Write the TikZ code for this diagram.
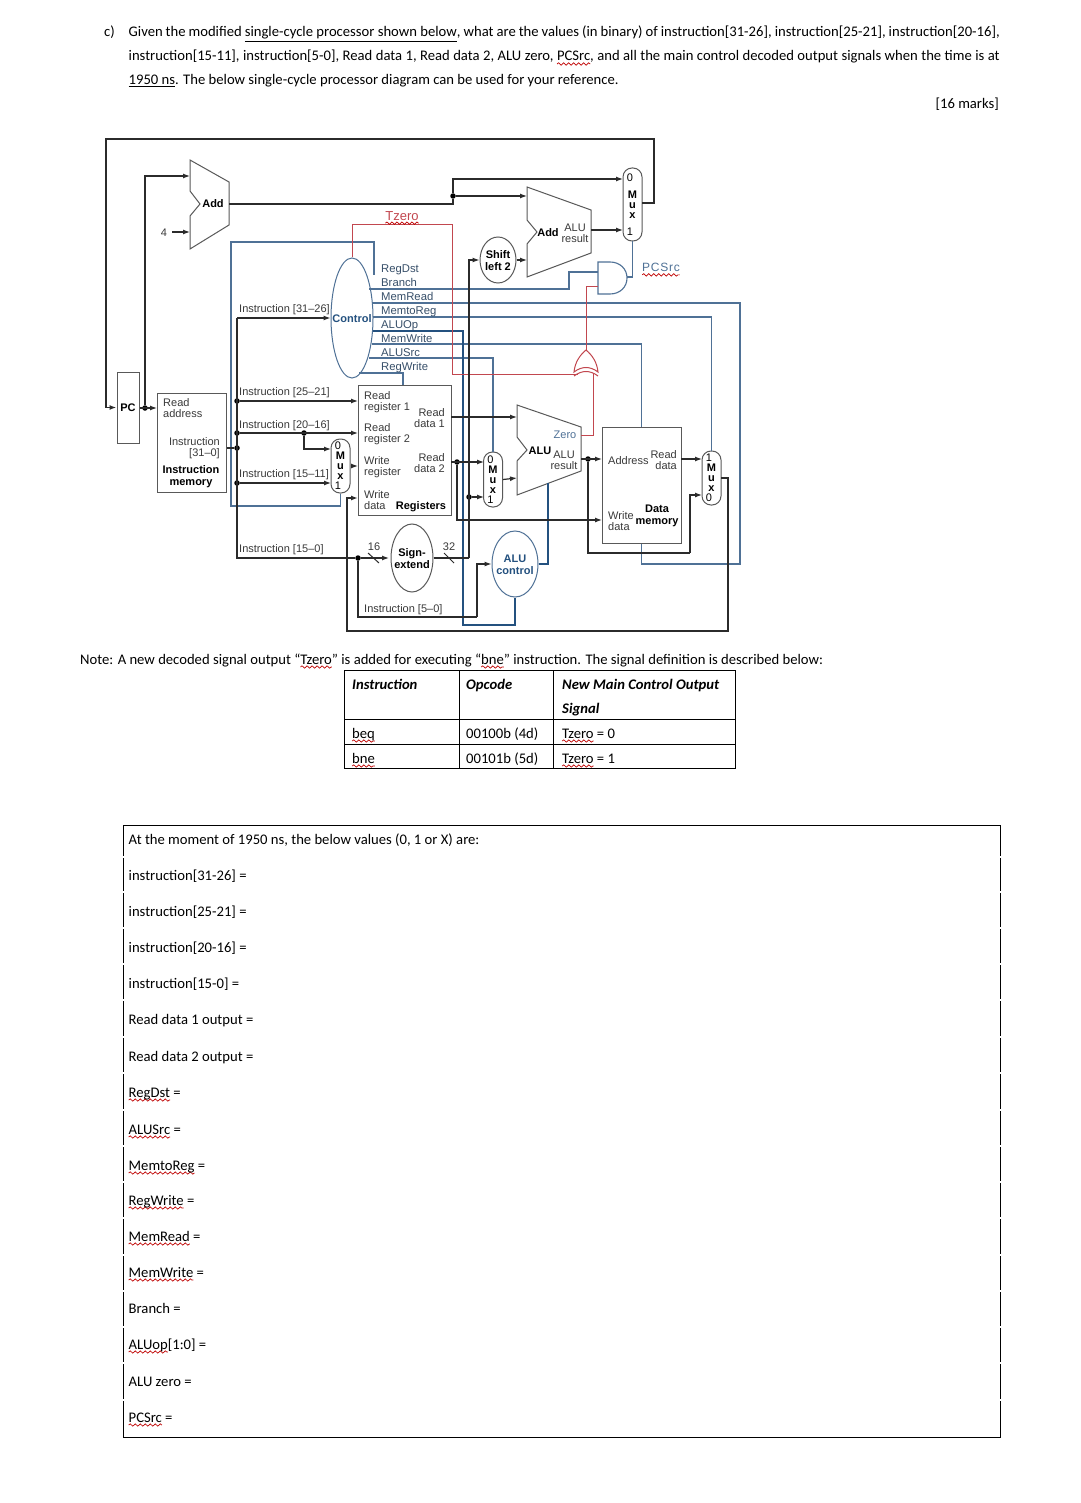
\documentclass[tikz,border=0pt]{standalone}
\usepackage{fontspec}
\setmainfont{Carlito}
\newfontfamily\labelfont{Liberation Sans}
\usetikzlibrary{arrows.meta,shapes.geometric,decorations.pathmorphing}
\definecolor{wireblack}{HTML}{2B2B2B}
\definecolor{ctrlblue}{HTML}{4F7196}
\definecolor{deepblue}{HTML}{24517F}
\definecolor{tzred}{HTML}{C2474F}
\definecolor{labelgray}{HTML}{3A3A3A}
\newsavebox{\splbox}
\newcommand{\spl}[1]{\leavevmode\sbox{\splbox}{#1}\raisebox{-3pt}{\tikz[overlay,baseline=0pt]\draw[red!75!black,line width=.7pt,decorate,decoration={snake,amplitude=1.2pt,segment length=5pt}] (0pt,0pt) -- (\wd\splbox,0pt);}\usebox{\splbox}}
\newcommand{\muxtext}[3][0pt]{\hspace*{-5pt}{\mdseries #2}\\[#1]\textbf{M}\\\textbf{u}\\\textbf{x}\\[#1]\hspace*{-5pt}{\mdseries #3}}
\tikzset{
  wire/.style={draw=wireblack,line width=1.2pt},
  ctrl/.style={draw=ctrlblue,line width=1.3pt},
  thick ctrl/.style={draw=deepblue,line width=2.6pt},
  tz/.style={draw=tzred,line width=1pt},
  box/.style={draw=gray!70!black,line width=1pt,inner sep=0pt},
  mux/.style={draw=gray!70!black,line width=1pt,rounded corners=9pt,minimum width=19pt,inner sep=0pt,align=center,font=\labelfont\fontsize{11}{10}\selectfont},
  dot/.style={circle,fill=black,inner sep=0pt,minimum size=5.5pt},
  lab/.style={font=\labelfont\fontsize{11}{11.5}\selectfont,text=labelgray,inner sep=0pt,align=center,yshift=-1.2pt},
  lableft/.style={lab,anchor=west,align=left},
  sig/.style={lab,anchor=west,text=ctrlblue!70!black,font=\labelfont\fontsize{11.3}{11.5}\selectfont,text height=8pt,text depth=2pt},
  blockname/.style={font=\labelfont\bfseries\fontsize{11}{12}\selectfont,inner sep=0pt,align=center,yshift=-.8pt},
  doc/.style={font=\fontsize{14.65}{17}\selectfont,inner sep=0pt,anchor=base west},
  rule/.style={draw=black,line width=1pt},
}
\begin{document}
\begin{tikzpicture}[x=1pt,y=-1pt,>={Latex[length=7pt,width=5pt]}]
\path[use as bounding box,fill=white] (0,0) rectangle (1080,1503);

% question text
\node[doc] (qc) at (104,37) {c)};
\node[doc] (q1) at (128.5,37) {\hbox to 871pt{Given the modified \underline{single-cycle processor shown below}, what are the values (in binary) of instruction[31-26], instruction[25-21], instruction[20-16],}};
\node[doc] (q2) at (128.5,61) {\hbox to 871pt{instruction[15-11], instruction[5-0], Read data 1, Read data 2, ALU zero, \spl{PCSrc}, and all the main control decoded output signals when the time is at}};
\node[doc] (q3) at (128.5,85) {\underline{1950 ns}. The below single-cycle processor diagram can be used for your reference.};
\node[doc,anchor=base east] (qm) at (999,109) {[16 marks]};

% blocks
\node[box,minimum width=22pt,minimum height=71pt] (pc) at (128,407.5) {\labelfont\bfseries\fontsize{11}{12}\selectfont PC};
\node[box,minimum width=69pt,minimum height=99pt] (imem) at (191.5,442.5) {};
\node[box,minimum width=93pt,minimum height=130pt] (regs) at (404.5,450) {};
\node[box,minimum width=79pt,minimum height=116pt] (dmem) at (641.5,485) {};
\node[mux,minimum height=73pt] (mpc) at (632.5,204.5) {\muxtext[7pt]{0}{1}};
\node[mux,minimum height=54pt] (mreg) at (340.5,466) {\muxtext{0}{1}};
\node[mux,minimum height=55pt] (malu) at (493,479.5) {\muxtext{0}{1}};
\node[mux,minimum height=54pt] (mmem) at (711.5,478) {\muxtext{1}{0}};
\node[ellipse,box,minimum width=36pt,minimum height=46pt] (shift) at (498,260) {};
\node[ellipse,box,minimum width=42pt,minimum height=68pt] (sext) at (412,558) {};
\node[ellipse,draw=ctrlblue,line width=1pt,inner sep=0pt,minimum width=42pt,minimum height=120pt] (ctrlu) at (352,318) {};
\node[ellipse,draw=ctrlblue,line width=1pt,inner sep=0pt,minimum width=46pt,minimum height=66pt] (aluc) at (515,564) {};
\draw[box] (190,160) -- (229,182) -- (229,225) -- (190,249) -- (190,216) -- (200,204) -- (190,191) -- cycle;
\draw[box] (527,187) -- (591,210) -- (591,253) -- (527,277) -- (527,244) -- (537,232) -- (527,220) -- cycle;
\draw[box] (517,405) -- (581,427) -- (581,471) -- (517,495) -- (517,461) -- (527,450) -- (517,437) -- cycle;
\draw[ctrl,line width=1.1pt] (598,262) -- (610,262) .. controls (620,262) and (627,269) .. (627,278) .. controls (627,287) and (620,294) .. (610,294) -- (598,294) -- cycle;
\draw[tz] (574,372) .. controls (575,362) and (580,355) .. (586,350) .. controls (592,355) and (597,362) .. (598,372) .. controls (590,366) and (582,366) .. (574,372) -- cycle;
\draw[tz] (574,376) .. controls (582,370) and (590,370) .. (598,376);

% junctions
\node[dot] (dpc) at (145,408) {};
\node[dot] (dadd) at (453,196) {};
\node[dot] (di1) at (237,401) {};
\node[dot] (di2) at (237,433) {};
\node[dot] (di0) at (237,448) {};
\node[dot] (di3) at (237,483) {};
\node[dot] (dmx) at (304,433) {};
\node[dot] (dimm) at (358,558) {};
\node[dot] (drd2) at (457,462) {};
\node[dot] (dext) at (469,497) {};
\node[dot] (dres) at (588,459) {};
\coordinate (fl) at (106,139);
\coordinate (fr) at (654,139);
\coordinate (mpco) at (642,203);
\coordinate (imin) at (157,408);
\coordinate (addo) at (229,204);
\coordinate (adda) at (190,176);
\coordinate (addb) at (190,232);
\coordinate (four) at (172,232);
\coordinate (add2a) at (527,196);
\coordinate (add2b) at (527,260);
\coordinate (add2o) at (591,230);
\coordinate (mpc0) at (623,179);
\coordinate (mpc1) at (623,230);
\coordinate (top) at (237,318);
\coordinate (low) at (237,558);
\coordinate (shv) at (469,558);
\coordinate (rr1) at (358,401);
\coordinate (rr2) at (358,433);
\coordinate (rw) at (358,466);
\coordinate (wd) at (358,498);
\coordinate (rtop) at (403,385);
\coordinate (mr0) at (331,449);
\coordinate (mr1) at (331,483);
\coordinate (rd1) at (451,417);
\coordinate (rd2) at (451,462);
\coordinate (alua) at (517,417);
\coordinate (alub) at (517,478);
\coordinate (alur) at (581,459);
\coordinate (aluz) at (581,435);
\coordinate (alubot) at (548,483);
\coordinate (ma0) at (484,462);
\coordinate (ma1) at (484,497);
\coordinate (sh16) at (389,558);
\coordinate (maddr) at (602,459);
\coordinate (mwd) at (602,520);
\coordinate (mrd) at (681,459);
\coordinate (mm1) at (702,459);
\coordinate (mm0) at (702,495);
\coordinate (mmo) at (721,478);
\coordinate (ando) at (627,277);
\coordinate (anda) at (598,272);
\coordinate (andb) at (598,287);
\coordinate (ortip) at (586,350);
\coordinate (orin) at (578,374);
\coordinate (orib) at (593,374);
\coordinate (cRD) at (374,275);
\coordinate (cBr) at (369,289);
\coordinate (cMR) at (372,303);
\coordinate (cMtR) at (373,317);
\coordinate (cOp) at (373,331);
\coordinate (cMW) at (372,344);
\coordinate (cAS) at (369,358);
\coordinate (cRW) at (359,373);

% control lines
\draw[ctrl] (cRD) -| (374,242) -| (231,506) -| (mreg.south);
\draw[ctrl] (cBr) -| (569,272) -- (anda);
\draw[ctrl] (cMR) -| (740,564) -| (dmem.south);
\draw[ctrl] (cMtR) -| (mmem.north);
\draw[ctrl] (cMW) -| (dmem.north);
\draw[ctrl] (cAS) -| (malu.north);
\draw[ctrl] (cRW) -| (rtop);
\draw[ctrl] (ando) -| (mpc.south);
\draw[thick ctrl] (cOp) -| (463,625) -| (aluc.south);
\draw[thick ctrl] (aluc.east) -| (alubot);
\draw[tz] (ctrlu.north) |- (452,225) |- (orin);
\draw[tz] (ortip) |- (andb);
\draw[tz] (orib) |- (aluz);

% data lines
\draw[wire,line width=1.5pt,->] (mpco) -| (fr) -- (fl) |- (pc.west);
\draw[wire,->] (dpc) |- (adda);
\draw[wire,->] (pc.east |- dpc) -- (imin);
\draw[wire,->] (four) -- (addb);
\draw[wire] (addo) -| (dadd);
\draw[wire,->] (dadd) |- (mpc0);
\draw[wire,->] (dadd) -- (add2a);
\draw[wire,->] (add2o) -- (mpc1);
\draw[wire,->] (shift.east) -- (add2b);
\draw[wire,->] (shv) |- (shift.west);
\draw[wire] (sext.east) -- (shv);
\draw[wire] (imem.east |- di0) -- (di0);
\draw[wire,->] (top) -- (ctrlu.west);
\draw[wire] (top) -- (low) -- (dimm);
\draw[wire,->] (dimm) -- (sh16);
\draw[wire,->] (di1) -- (rr1);
\draw[wire,->] (di2) -- (rr2);
\draw[wire,->] (dmx) |- (mr0);
\draw[wire,->] (di3) -- (mr1);
\draw[wire,->] (mreg.east) -- (rw);
\draw[wire] (dimm) |- (477,617);
\draw[wire,->] (477,617) |- (aluc.west);
\draw[wire,->] (rd1) -- (alua);
\draw[wire,->] (rd2) -- (ma0);
\draw[wire,->] (drd2) |- (mwd);
\draw[wire,->] (dext) -- (ma1);
\draw[wire,->] (malu.east) -- (alub);
\draw[wire,->] (alur) -- (maddr);
\draw[wire] (dres) |- (690,553);
\draw[wire,->] (690,553) |- (mm0);
\draw[wire,->] (mrd) -- (mm1);
\draw[wire,line width=1.5pt,->] (mmo) -| (728,631) -| (347,498) -- (wd);
\draw[wire,line width=1pt] (368,553) -- (379,563);
\draw[wire,line width=1pt] (444,553) -- (454,563);

% block labels
\node[blockname] (ladd) at (213,203) {Add};
\node[blockname] (ladd2) at (548,232) {Add};
\node[lab] (lres) at (575,232) {ALU\\result};
\node[blockname] (lshift) at (498,260) {Shift\\left 2};
\node[blockname,text=deepblue] (lctrl) at (352,318) {Control};
\node[blockname] (lext) at (412,558) {Sign-\\extend};
\node[blockname,text=deepblue] (laluc) at (515,564) {ALU\\control};
\node[blockname] (lalu) at (540,450) {ALU};
\node[lab] (lres2) at (564,459) {ALU\\result};
\node[lab,text=ctrlblue] (lzero) at (565,434) {Zero};
\node[lab] (lfour) at (164,232) {4};
\node[lableft] (lread) at (163,407) {Read\\address};
\node[lab,align=right,anchor=east] (linst) at (220,447) {Instruction\\{[31–0]}};
\node[blockname] (limem) at (191,476) {Instruction\\memory};
\node[lableft] (lr1) at (364,401) {Read\\register 1};
\node[lableft] (lr2) at (364,433) {Read\\register 2};
\node[lableft] (lr3) at (364,466) {Write\\register};
\node[lableft] (lr4) at (364,499) {Write\\data};
\node[blockname] (lregs) at (421,506) {Registers};
\node[lab,align=right,anchor=east] (ld1) at (445,417) {Read\\data 1};
\node[lab,align=right,anchor=east] (ld2) at (445,462) {Read\\data 2};
\node[lableft] (lad) at (608,459) {Address};
\node[lab,align=right,anchor=east] (lrd) at (677,459) {Read\\data};
\node[lableft] (lwd) at (608,520) {Write\\data};
\node[blockname] (ldm) at (657,515) {Data\\memory};
\node[lableft] (li1) at (239,308) {Instruction [31–26]};
\node[lableft] (li2) at (239,391) {Instruction [25–21]};
\node[lableft] (li3) at (239,424) {Instruction [20–16]};
\node[lableft] (li4) at (239,473) {Instruction [15–11]};
\node[lableft] (li5) at (239,548) {Instruction [15–0]};
\node[lableft] (li6) at (364,608) {Instruction [5–0]};
\node[lab] (l16) at (374,546) {16};
\node[lab] (l32) at (449,546) {32};
\node[sig] (s1) at (381,268) {RegDst};
\node[sig] (s2) at (381,282) {Branch};
\node[sig] (s3) at (381,296) {MemRead};
\node[sig] (s4) at (381,310) {MemtoReg};
\node[sig] (s5) at (381,324) {ALUOp};
\node[sig] (s6) at (381,338) {MemWrite};
\node[sig] (s7) at (381,352) {ALUSrc};
\node[sig] (s8) at (381,366) {RegWrite};
\node[lab,text=tzred,font=\labelfont\fontsize{13}{14}\selectfont] (ltz) at (402,216) {\spl{Tzero}};
\node[lab,text=ctrlblue,font=\labelfont\addfontfeatures{LetterSpace=6}\fontsize{12}{13}\selectfont] (lpcs) at (661,268) {\spl{PCSrc}};

% note and opcode table
\node[doc] (note) at (80,664) {Note: A new decoded signal output ``\spl{Tzero}'' is added for executing ``\spl{bne}'' instruction. The signal definition is described below:};
\draw[rule] (344,670) rectangle (735,768);
\draw[rule] (344,719) -- (735,719);
\draw[rule] (344,744) -- (735,744);
\draw[rule] (459,670) -- (459,768);
\draw[rule] (553,670) -- (553,768);
\node[doc] (t1) at (352,689) {\bfseries\itshape Instruction};
\node[doc] (t2) at (466,689) {\bfseries\itshape Opcode};
\node[doc] (t3) at (562,689) {\bfseries\itshape New Main Control Output};
\node[doc] (t4) at (562,713) {\bfseries\itshape Signal};
\node[doc] (t5) at (352,738) {\spl{beq}};
\node[doc] (t6) at (466,738) {00100b (4d)};
\node[doc] (t7) at (562,738) {\spl{Tzero} = 0};
\node[doc] (t8) at (352,763) {\spl{bne}};
\node[doc] (t9) at (466,763) {00101b (5d)};
\node[doc] (t10) at (562,763) {\spl{Tzero} = 1};

% answer box
\draw[rule] (123,825) -- (1001,825);
\draw[rule] (123,1437) -- (1001,1437);
\foreach \a/\b in {825/856,858/891,893/927,929/963,965/999,1001/1036,1038/1072,1074/1109,1111/1145,1147/1181,1183/1217,1219/1254,1256/1290,1292/1326,1328/1362,1364/1399,1401/1437} {
  \draw[rule] (123,\a) -- (123,\b);
  \draw[rule] (1000,\a) -- (1000,\b);
}
\foreach \i/\y/\t in {
  a/844/{At the moment of 1950 ns, the below values (0, 1 or X) are:},
  b/880/{instruction[31-26] =},
  c/916/{instruction[25-21] =},
  d/952/{instruction[20-16] =},
  e/988/{instruction[15-0] =},
  f/1024/{Read data 1 output =},
  g/1061/{Read data 2 output =},
  h/1097/{\spl{RegDst} =},
  j/1134/{\spl{ALUSrc} =},
  k/1170/{\spl{MemtoReg} =},
  l/1205/{\spl{RegWrite} =},
  m/1241/{\spl{MemRead} =},
  n/1277/{\spl{MemWrite} =},
  o/1313/{Branch =},
  p/1349/{\spl{ALUop}[1:0] =},
  q/1386/{ALU zero =},
  r/1422/{\spl{PCSrc} =}} {
  \node[doc] (ans\i) at (128.5,\y) {\t};
}
\end{tikzpicture}
\end{document}
